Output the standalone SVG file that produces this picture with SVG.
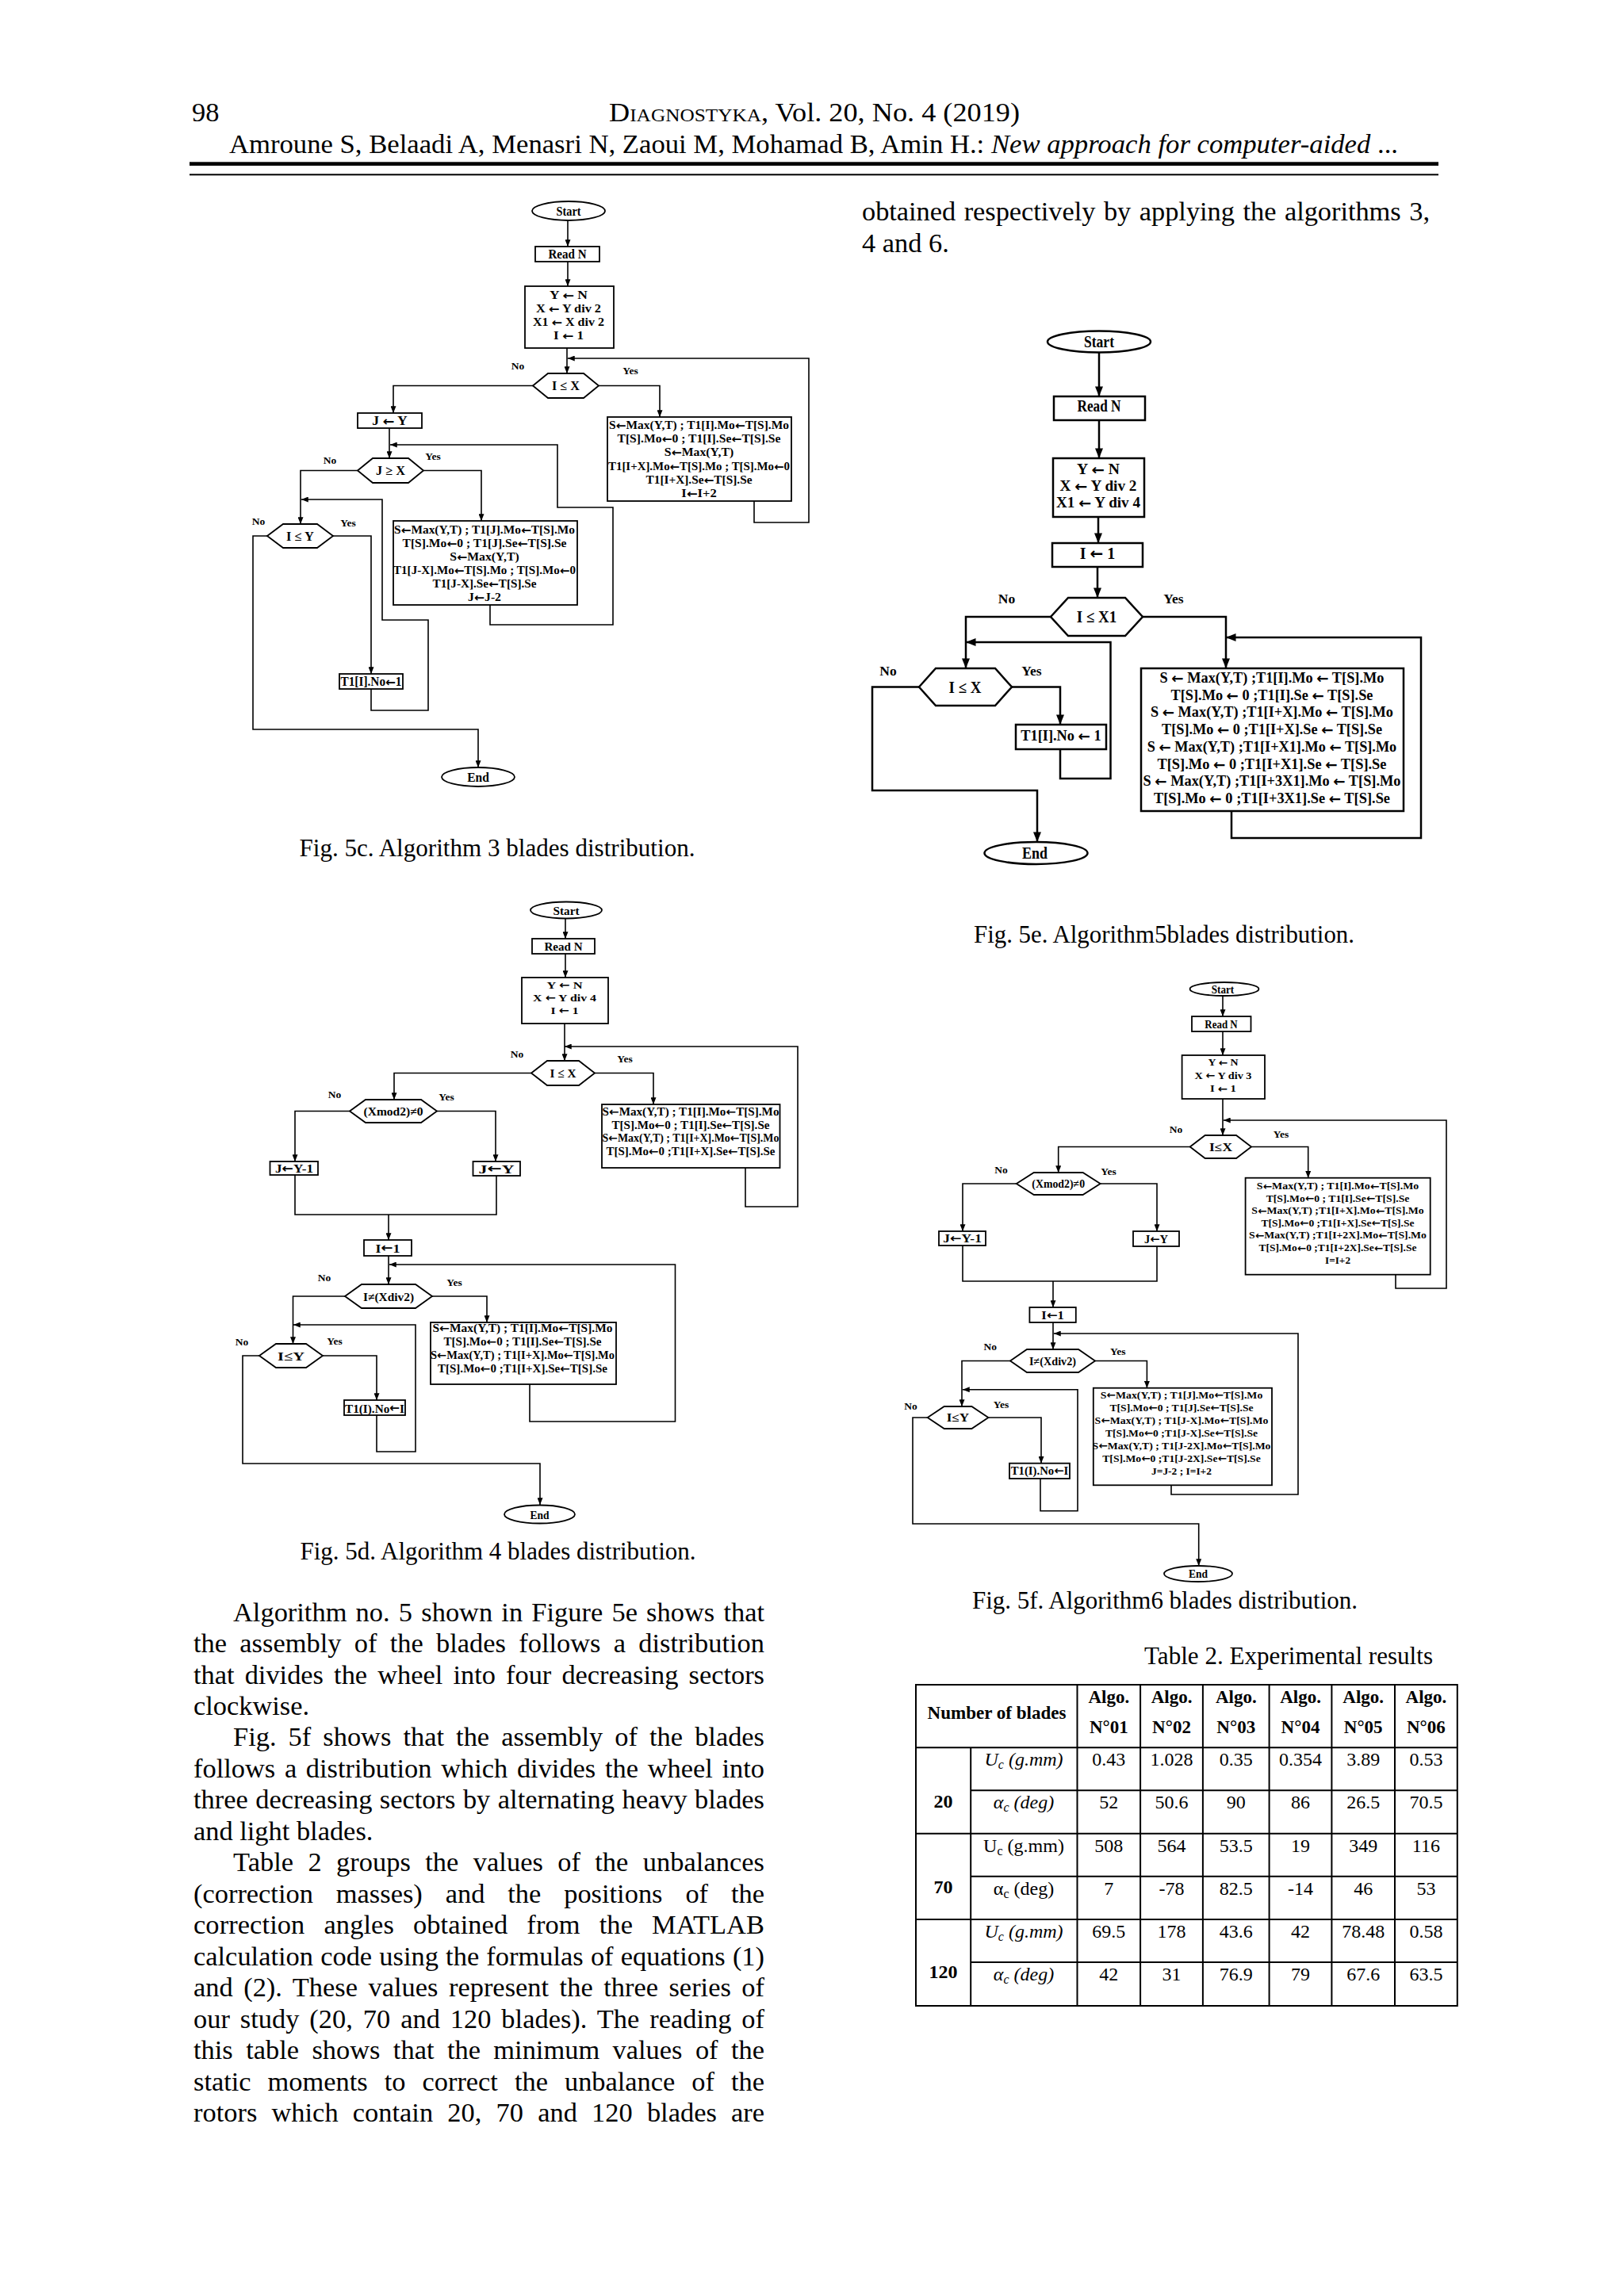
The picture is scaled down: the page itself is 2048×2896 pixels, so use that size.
<svg xmlns="http://www.w3.org/2000/svg" width="2048" height="2896" viewBox="0 0 2048 2896">
<defs>
<marker id="a" viewBox="0 0 10 8" refX="10" refY="4" markerWidth="9" markerHeight="7" orient="auto" markerUnits="userSpaceOnUse"><path d="M0,0L10,4L0,8z" fill="#000"/></marker>
<marker id="A" viewBox="0 0 10 8" refX="10" refY="4" markerWidth="13" markerHeight="10" orient="auto" markerUnits="userSpaceOnUse"><path d="M0,0L10,4L0,8z" fill="#000"/></marker>
</defs>
<style>
text{font-family:"Liberation Serif","Times New Roman","DejaVu Serif",serif;fill:#000}
.fc text{font-weight:bold;dominant-baseline:central;text-anchor:middle}
.f5c text{font-size:16px}
.f5d text{font-size:15.5px}
.f5f text{font-size:14.5px}
.f5e text{font-size:20px}
.f5c text.m{font-size:14.6px}
.f5d text.m{font-size:14.2px}
.f5d text.mi{font-size:13.3px}
.f5f text.m{font-size:13.3px}
.f5e text.m{font-size:18.1px}
.fc text.lb{font-size:13.5px}
.f5e text.lb{font-size:17.5px}
.ar{font-family:"DejaVu Sans",sans-serif}
.n{fill:#fff;stroke:#000;stroke-width:1.8}
.f5e .n{stroke-width:2.5}
.cn path{fill:none;stroke:#000;stroke-width:1.6}
.f5e .cn path{stroke-width:2.5}
.body{font-size:34.4px}
.cap{font-size:31px;text-anchor:middle}
.tb text{font-size:24px;text-anchor:middle}
.tb .h{font-weight:bold;font-size:23px}
.tl{stroke:#000;stroke-width:2;fill:none}
</style>
<rect x="0" y="0" width="2048" height="2896" fill="#fff"/>

<g id="header">
<text x="242" y="153" font-size="34.4">98</text>
<text x="1027" y="153" font-size="34.4" text-anchor="middle" textLength="518" lengthAdjust="spacingAndGlyphs"><tspan style="font-variant:small-caps">Diagnostyka</tspan>, Vol. 20, No. 4 (2019)</text>
<text x="289" y="193" font-size="34.4" textLength="1474" lengthAdjust="spacingAndGlyphs">Amroune S, Belaadi A, Menasri N, Zaoui M, Mohamad B, Amin H.: <tspan font-style="italic">New approach for computer-aided</tspan> ...</text>
<rect x="239" y="204.3" width="1575" height="4.7" fill="#000"/>
<rect x="239" y="219.3" width="1575" height="2" fill="#000"/>
</g>

<g id="body-left" class="body">
<text x="294" y="2044.6" word-spacing="2.6" textLength="670" lengthAdjust="spacing">Algorithm no. 5 shown in Figure 5e shows that</text>
<text x="244" y="2084.1" word-spacing="7.7" textLength="720" lengthAdjust="spacing">the assembly of the blades follows a distribution</text>
<text x="244" y="2123.5" word-spacing="4.5" textLength="720" lengthAdjust="spacing">that divides the wheel into four decreasing sectors</text>
<text x="244" y="2163">clockwise.</text>
<text x="294" y="2202.4" word-spacing="6.5" textLength="670" lengthAdjust="spacing">Fig. 5f shows that the assembly of the blades</text>
<text x="244" y="2241.9" word-spacing="3.1" textLength="720" lengthAdjust="spacing">follows a distribution which divides the wheel into</text>
<text x="244" y="2281.4" word-spacing="0.9" textLength="720" lengthAdjust="spacing">three decreasing sectors by alternating heavy blades</text>
<text x="244" y="2320.8">and light blades.</text>
<text x="294" y="2360.3" word-spacing="9.6" textLength="670" lengthAdjust="spacing">Table 2 groups the values of the unbalances</text>
<text x="244" y="2399.7" word-spacing="20.3" textLength="720" lengthAdjust="spacing">(correction masses) and the positions of the</text>
<text x="244" y="2439.2" word-spacing="15.4" textLength="720" lengthAdjust="spacing">correction angles obtained from the MATLAB</text>
<text x="244" y="2478.7" word-spacing="0.6" textLength="720" lengthAdjust="spacing">calculation code using the formulas of equations (1)</text>
<text x="244" y="2518.1" word-spacing="4.9" textLength="720" lengthAdjust="spacing">and (2). These values represent the three series of</text>
<text x="244" y="2557.6" word-spacing="4.3" textLength="720" lengthAdjust="spacing">our study (20, 70 and 120 blades). The reading of</text>
<text x="244" y="2597" word-spacing="7.8" textLength="720" lengthAdjust="spacing">this table shows that the minimum values of the</text>
<text x="244" y="2636.5" word-spacing="12.4" textLength="720" lengthAdjust="spacing">static moments to correct the unbalance of the</text>
<text x="244" y="2676" word-spacing="9.6" textLength="720" lengthAdjust="spacing">rotors which contain 20, 70 and 120 blades are</text>
</g>
<g id="body-right" class="body">
<text x="1087" y="278" word-spacing="2" textLength="716" lengthAdjust="spacing">obtained respectively by applying the algorithms 3,</text>
<text x="1087" y="317.5">4 and 6.</text>
</g>

<g id="captions" class="cap">
<text x="627" y="1080" textLength="499" lengthAdjust="spacingAndGlyphs">Fig. 5c. Algorithm 3 blades distribution.</text>
<text x="628" y="1967" textLength="499" lengthAdjust="spacingAndGlyphs">Fig. 5d. Algorithm 4 blades distribution.</text>
<text x="1468" y="1189" textLength="480" lengthAdjust="spacingAndGlyphs">Fig. 5e. Algorithm5blades distribution.</text>
<text x="1469" y="2029" textLength="486" lengthAdjust="spacingAndGlyphs">Fig. 5f. Algorithm6 blades distribution.</text>
<text x="1625" y="2099" textLength="364" lengthAdjust="spacingAndGlyphs">Table 2. Experimental results</text>
</g>

<!-- ================= Fig 5c ================= -->
<g id="fig5c" class="fc f5c">
<g class="cn" id="c5c-connectors">
<path d="M716,278V311" marker-end="url(#a)"/>
<path d="M716,330V361" marker-end="url(#a)"/>
<path d="M715,439V471" marker-end="url(#a)"/>
<path d="M951,632V659H1020V452H716" marker-end="url(#a)"/>
<path d="M672,486.5H496V521" marker-end="url(#a)"/>
<path d="M755,486.5H832V526" marker-end="url(#a)"/>
<path d="M491,540V578" marker-end="url(#a)"/>
<path d="M618,763V788H773V640H703V561H492" marker-end="url(#a)"/>
<path d="M451,593.5H379V661" marker-end="url(#a)"/>
<path d="M534,593.5H607V657" marker-end="url(#a)"/>
<path d="M468,869V896H540V782H482V630H380" marker-end="url(#a)"/>
<path d="M337,676H319V920H603V968" marker-end="url(#a)"/>
<path d="M420,676H468V850" marker-end="url(#a)"/>
</g>
<g id="c5c-start"><ellipse class="n" cx="717" cy="266" rx="46" ry="12"/><text x="717" y="266" textLength="31" lengthAdjust="spacingAndGlyphs">Start</text></g>
<g id="c5c-read"><rect class="n" x="675" y="311" width="81" height="19"/><text x="715.5" y="320.5" textLength="48" lengthAdjust="spacingAndGlyphs">Read N</text></g>
<g id="c5c-init"><rect class="n" x="662" y="361" width="112" height="78"/>
<text class="m" x="717" y="372" textLength="48" lengthAdjust="spacingAndGlyphs">Y <tspan class="ar">←</tspan> N</text>
<text class="m" x="717" y="389" textLength="82" lengthAdjust="spacingAndGlyphs">X <tspan class="ar">←</tspan> Y div 2</text>
<text class="m" x="717" y="406" textLength="90" lengthAdjust="spacingAndGlyphs">X1 <tspan class="ar">←</tspan> X div 2</text>
<text class="m" x="717" y="423" textLength="38" lengthAdjust="spacingAndGlyphs">I <tspan class="ar">←</tspan> 1</text></g>
<g id="c5c-d1"><polygon class="n" points="672,486.5 691,471 736,471 755,486.5 736,502 691,502"/><text x="713.5" y="486.5" textLength="35" lengthAdjust="spacingAndGlyphs">I ≤ X</text>
<text class="lb" x="653" y="461">No</text><text class="lb" x="795" y="467">Yes</text></g>
<g id="c5c-jy"><rect class="n" x="451" y="521" width="81" height="19"/><text x="491.5" y="530.5" textLength="44.5" lengthAdjust="spacingAndGlyphs">J <tspan class="ar">←</tspan> Y</text></g>
<g id="c5c-box1"><rect class="n" x="766" y="526" width="232" height="106"/>
<text class="m" x="881.5" y="536" textLength="227" lengthAdjust="spacingAndGlyphs">S<tspan class="ar">←</tspan>Max(Y,T) ; T1[I].Mo<tspan class="ar">←</tspan>T[S].Mo</text>
<text class="m" x="881.5" y="553.2" textLength="206" lengthAdjust="spacingAndGlyphs">T[S].Mo<tspan class="ar">←</tspan>0 ; T1[I].Se<tspan class="ar">←</tspan>T[S].Se</text>
<text class="m" x="881.5" y="570.4" textLength="87.5" lengthAdjust="spacingAndGlyphs">S<tspan class="ar">←</tspan>Max(Y,T)</text>
<text class="m" x="881.5" y="587.6" textLength="229" lengthAdjust="spacingAndGlyphs">T1[I+X].Mo<tspan class="ar">←</tspan>T[S].Mo ; T[S].Mo<tspan class="ar">←</tspan>0</text>
<text class="m" x="881.5" y="604.8" textLength="134" lengthAdjust="spacingAndGlyphs">T1[I+X].Se<tspan class="ar">←</tspan>T[S].Se</text>
<text class="m" x="881.5" y="622" textLength="44.5" lengthAdjust="spacingAndGlyphs">I<tspan class="ar">←</tspan>I+2</text></g>
<g id="c5c-d2"><polygon class="n" points="451,593.5 470,578 515,578 534,593.5 515,609 470,609"/><text x="492.5" y="593.5" textLength="37" lengthAdjust="spacingAndGlyphs">J ≥ X</text>
<text class="lb" x="416" y="580">No</text><text class="lb" x="546" y="575">Yes</text></g>
<g id="c5c-box2"><rect class="n" x="496" y="657" width="232" height="106"/>
<text class="m" x="611" y="668" textLength="228" lengthAdjust="spacingAndGlyphs">S<tspan class="ar">←</tspan>Max(Y,T) ; T1[J].Mo<tspan class="ar">←</tspan>T[S].Mo</text>
<text class="m" x="611" y="685" textLength="207" lengthAdjust="spacingAndGlyphs">T[S].Mo<tspan class="ar">←</tspan>0 ; T1[J].Se<tspan class="ar">←</tspan>T[S].Se</text>
<text class="m" x="611" y="702" textLength="87.5" lengthAdjust="spacingAndGlyphs">S<tspan class="ar">←</tspan>Max(Y,T)</text>
<text class="m" x="611" y="719" textLength="230" lengthAdjust="spacingAndGlyphs">T1[J-X].Mo<tspan class="ar">←</tspan>T[S].Mo ; T[S].Mo<tspan class="ar">←</tspan>0</text>
<text class="m" x="611" y="736" textLength="131" lengthAdjust="spacingAndGlyphs">T1[J-X].Se<tspan class="ar">←</tspan>T[S].Se</text>
<text class="m" x="611" y="753" textLength="42" lengthAdjust="spacingAndGlyphs">J<tspan class="ar">←</tspan>J-2</text></g>
<g id="c5c-d3"><polygon class="n" points="337,676 357,661 400,661 420,676 400,691 357,691"/><text x="378.5" y="676" textLength="35" lengthAdjust="spacingAndGlyphs">I ≤ Y</text>
<text class="lb" x="326" y="657">No</text><text class="lb" x="439" y="659">Yes</text></g>
<g id="c5c-t1"><rect class="n" x="428" y="850" width="80" height="19"/><text x="468" y="859.5" textLength="77" lengthAdjust="spacingAndGlyphs">T1[I].No<tspan class="ar">←</tspan>1</text></g>
<g id="c5c-end"><ellipse class="n" cx="603" cy="980" rx="46" ry="12"/><text x="603" y="980" textLength="27.6" lengthAdjust="spacingAndGlyphs">End</text></g>
</g>

<!-- ================= Fig 5e ================= -->
<g id="fig5e" class="fc f5e">
<g class="cn" id="c5e-connectors">
<path d="M1386,445V500" marker-end="url(#A)"/>
<path d="M1386,530V578" marker-end="url(#A)"/>
<path d="M1385,652V685" marker-end="url(#A)"/>
<path d="M1384,715V754" marker-end="url(#A)"/>
<path d="M1325,778H1218V843" marker-end="url(#A)"/>
<path d="M1441,778H1546V843" marker-end="url(#A)"/>
<path d="M1553,1023V1057H1792V804H1546" marker-end="url(#A)"/>
<path d="M1159,866.5H1100V997H1308V1062" marker-end="url(#A)"/>
<path d="M1276,866.5H1337V914" marker-end="url(#A)"/>
<path d="M1337,945V982H1400.5V810H1218" marker-end="url(#A)"/>
</g>
<g id="c5e-start"><ellipse class="n" cx="1386" cy="431" rx="65" ry="13.5"/><text x="1386" y="431" textLength="38" lengthAdjust="spacingAndGlyphs">Start</text></g>
<g id="c5e-read"><rect class="n" x="1329" y="500" width="115" height="30"/><text x="1386" y="512" textLength="55" lengthAdjust="spacingAndGlyphs">Read N</text></g>
<g id="c5e-init"><rect class="n" x="1328" y="578" width="115" height="74"/>
<text class="m" x="1385" y="592" textLength="54" lengthAdjust="spacingAndGlyphs">Y <tspan class="ar">←</tspan> N</text>
<text class="m" x="1385" y="613" textLength="97" lengthAdjust="spacingAndGlyphs">X <tspan class="ar">←</tspan> Y div 2</text>
<text class="m" x="1385" y="634" textLength="106" lengthAdjust="spacingAndGlyphs">X1 <tspan class="ar">←</tspan> Y div 4</text></g>
<g id="c5e-i1"><rect class="n" x="1327" y="685" width="114" height="30"/><text x="1384" y="698" textLength="44.5" lengthAdjust="spacingAndGlyphs">I <tspan class="ar">←</tspan> 1</text></g>
<g id="c5e-d1"><polygon class="n" points="1325,778 1347,754 1419,754 1441,778 1419,802 1347,802"/><text x="1383" y="778" textLength="50.5" lengthAdjust="spacingAndGlyphs">I ≤ X1</text>
<text class="lb" x="1269.5" y="755">No</text><text class="lb" x="1480" y="755">Yes</text></g>
<g id="c5e-d2"><polygon class="n" points="1159,866.5 1180,843 1255,843 1276,866.5 1255,890 1180,890"/><text x="1217" y="866.5" textLength="41" lengthAdjust="spacingAndGlyphs">I ≤ X</text>
<text class="lb" x="1120" y="845.5">No</text><text class="lb" x="1301" y="845.5">Yes</text></g>
<g id="c5e-t1"><rect class="n" x="1281" y="914" width="114" height="31"/><text class="m" x="1338" y="928" textLength="101.5" lengthAdjust="spacingAndGlyphs">T1[I].No <tspan class="ar">←</tspan> 1</text></g>
<g id="c5e-box"><rect class="n" x="1439" y="843" width="331" height="180"/>
<text class="m" x="1604" y="855" textLength="283" lengthAdjust="spacingAndGlyphs">S <tspan class="ar">←</tspan> Max(Y,T) ;T1[I].Mo <tspan class="ar">←</tspan> T[S].Mo</text>
<text class="m" x="1604" y="876.7" textLength="255" lengthAdjust="spacingAndGlyphs">T[S].Mo <tspan class="ar">←</tspan> 0 ;T1[I].Se <tspan class="ar">←</tspan> T[S].Se</text>
<text class="m" x="1604" y="898.4" textLength="306" lengthAdjust="spacingAndGlyphs">S <tspan class="ar">←</tspan> Max(Y,T) ;T1[I+X].Mo <tspan class="ar">←</tspan> T[S].Mo</text>
<text class="m" x="1604" y="920.1" textLength="278" lengthAdjust="spacingAndGlyphs">T[S].Mo <tspan class="ar">←</tspan> 0 ;T1[I+X].Se <tspan class="ar">←</tspan> T[S].Se</text>
<text class="m" x="1604" y="941.8" textLength="314.5" lengthAdjust="spacingAndGlyphs">S <tspan class="ar">←</tspan> Max(Y,T) ;T1[I+X1].Mo <tspan class="ar">←</tspan> T[S].Mo</text>
<text class="m" x="1604" y="963.5" textLength="289" lengthAdjust="spacingAndGlyphs">T[S].Mo <tspan class="ar">←</tspan> 0 ;T1[I+X1].Se <tspan class="ar">←</tspan> T[S].Se</text>
<text class="m" x="1604" y="985.2" textLength="325" lengthAdjust="spacingAndGlyphs">S <tspan class="ar">←</tspan> Max(Y,T) ;T1[I+3X1].Mo <tspan class="ar">←</tspan> T[S].Mo</text>
<text class="m" x="1604" y="1006.9" textLength="298" lengthAdjust="spacingAndGlyphs">T[S].Mo <tspan class="ar">←</tspan> 0 ;T1[I+3X1].Se <tspan class="ar">←</tspan> T[S].Se</text></g>
<g id="c5e-end"><ellipse class="n" cx="1306.5" cy="1076" rx="65" ry="14"/><text x="1305" y="1076" textLength="32" lengthAdjust="spacingAndGlyphs">End</text></g>
</g>

<!-- ================= Fig 5d ================= -->
<g id="fig5d" class="fc f5d">
<g class="cn" id="c5d-connectors">
<path d="M713,1159V1184" marker-end="url(#a)"/>
<path d="M713,1203V1233" marker-end="url(#a)"/>
<path d="M712,1291V1338" marker-end="url(#a)"/>
<path d="M940,1473V1522H1006V1320H712" marker-end="url(#a)"/>
<path d="M670,1353.5H497V1387" marker-end="url(#a)"/>
<path d="M750,1353.5H824V1393" marker-end="url(#a)"/>
<path d="M441,1401.5H372V1465" marker-end="url(#a)"/>
<path d="M551,1401.5H625V1465" marker-end="url(#a)"/>
<path d="M372,1482V1532H626V1483"/>
<path d="M490,1532V1564" marker-end="url(#a)"/>
<path d="M490,1584V1620" marker-end="url(#a)"/>
<path d="M668,1746V1793H851.5V1595H491" marker-end="url(#a)"/>
<path d="M435,1635H369.5V1695" marker-end="url(#a)"/>
<path d="M545,1635H614V1668" marker-end="url(#a)"/>
<path d="M475,1785V1831H524V1671H370" marker-end="url(#a)"/>
<path d="M327,1710H306V1846H681V1898" marker-end="url(#a)"/>
<path d="M407,1710H475V1766" marker-end="url(#a)"/>
</g>
<g id="c5d-start"><ellipse class="n" cx="714" cy="1148" rx="45" ry="10.5"/><text x="714" y="1148" textLength="33" lengthAdjust="spacingAndGlyphs">Start</text></g>
<g id="c5d-read"><rect class="n" x="671" y="1184" width="79" height="19"/><text x="710.5" y="1193.5" textLength="48" lengthAdjust="spacingAndGlyphs">Read N</text></g>
<g id="c5d-init"><rect class="n" x="658" y="1233" width="109" height="58"/>
<text class="mi" x="712" y="1242" textLength="45" lengthAdjust="spacingAndGlyphs">Y <tspan class="ar">←</tspan> N</text>
<text class="mi" x="712" y="1258" textLength="80" lengthAdjust="spacingAndGlyphs">X <tspan class="ar">←</tspan> Y div 4</text>
<text class="mi" x="712" y="1274" textLength="35" lengthAdjust="spacingAndGlyphs">I <tspan class="ar">←</tspan> 1</text></g>
<g id="c5d-d1"><polygon class="n" points="670,1353.5 690,1338 730,1338 750,1353.5 730,1369 690,1369"/><text x="710" y="1353.5" textLength="33" lengthAdjust="spacingAndGlyphs">I ≤ X</text>
<text class="lb" x="652" y="1329">No</text><text class="lb" x="788" y="1335">Yes</text></g>
<g id="c5d-box1"><rect class="n" x="759" y="1393" width="224.5" height="80"/>
<text class="m" x="871" y="1402" textLength="223" lengthAdjust="spacingAndGlyphs">S<tspan class="ar">←</tspan>Max(Y,T) ; T1[I].Mo<tspan class="ar">←</tspan>T[S].Mo</text>
<text class="m" x="871" y="1418.7" textLength="199" lengthAdjust="spacingAndGlyphs">T[S].Mo<tspan class="ar">←</tspan>0 ; T1[I].Se<tspan class="ar">←</tspan>T[S].Se</text>
<text class="m" x="871" y="1435.4" textLength="223" lengthAdjust="spacingAndGlyphs">S<tspan class="ar">←</tspan>Max(Y,T) ; T1[I+X].Mo<tspan class="ar">←</tspan>T[S].Mo</text>
<text class="m" x="871" y="1452" textLength="213" lengthAdjust="spacingAndGlyphs">T[S].Mo<tspan class="ar">←</tspan>0 ;T1[I+X].Se<tspan class="ar">←</tspan>T[S].Se</text></g>
<g id="c5d-dmod"><polygon class="n" points="441,1401.5 461,1387 531,1387 551,1401.5 531,1416 461,1416"/><text x="496" y="1401.5" textLength="75" lengthAdjust="spacingAndGlyphs">(Xmod2)≠0</text>
<text class="lb" x="422" y="1380">No</text><text class="lb" x="563" y="1383">Yes</text></g>
<g id="c5d-jy1"><rect class="n" x="340.5" y="1465" width="60.5" height="17"/><text x="371" y="1473.5" textLength="48" lengthAdjust="spacingAndGlyphs">J<tspan class="ar">←</tspan>Y-1</text></g>
<g id="c5d-jy"><rect class="n" x="596.5" y="1465" width="59.5" height="18"/><text x="626" y="1474" textLength="45" lengthAdjust="spacingAndGlyphs">J<tspan class="ar">←</tspan>Y</text></g>
<g id="c5d-i1"><rect class="n" x="459" y="1564" width="60" height="20"/><text x="489" y="1574" textLength="31" lengthAdjust="spacingAndGlyphs">I<tspan class="ar">←</tspan>1</text></g>
<g id="c5d-dxdiv"><polygon class="n" points="435,1635 456,1620 524,1620 545,1635 524,1650 456,1650"/><text x="490" y="1635" textLength="64" lengthAdjust="spacingAndGlyphs">I≠(Xdiv2)</text>
<text class="lb" x="409" y="1611">No</text><text class="lb" x="573" y="1617">Yes</text></g>
<g id="c5d-box2"><rect class="n" x="543" y="1668" width="234" height="78"/>
<text class="m" x="659" y="1675" textLength="227" lengthAdjust="spacingAndGlyphs">S<tspan class="ar">←</tspan>Max(Y,T) ; T1[I].Mo<tspan class="ar">←</tspan>T[S].Mo</text>
<text class="m" x="659" y="1692" textLength="199" lengthAdjust="spacingAndGlyphs">T[S].Mo<tspan class="ar">←</tspan>0 ; T1[I].Se<tspan class="ar">←</tspan>T[S].Se</text>
<text class="m" x="659" y="1709" textLength="232" lengthAdjust="spacingAndGlyphs">S<tspan class="ar">←</tspan>Max(Y,T) ; T1[I+X].Mo<tspan class="ar">←</tspan>T[S].Mo</text>
<text class="m" x="659" y="1726" textLength="214" lengthAdjust="spacingAndGlyphs">T[S].Mo<tspan class="ar">←</tspan>0 ;T1[I+X].Se<tspan class="ar">←</tspan>T[S].Se</text></g>
<g id="c5d-d3"><polygon class="n" points="327,1710 348,1695 386,1695 407,1710 386,1725 348,1725"/><text x="367" y="1710" textLength="34" lengthAdjust="spacingAndGlyphs">I≤Y</text>
<text class="lb" x="305" y="1692">No</text><text class="lb" x="422" y="1691">Yes</text></g>
<g id="c5d-t1"><rect class="n" x="434" y="1766" width="77" height="19"/><text x="472.5" y="1776" textLength="75" lengthAdjust="spacingAndGlyphs">T1(I).No<tspan class="ar">←</tspan>I</text></g>
<g id="c5d-end"><ellipse class="n" cx="680.5" cy="1910" rx="44.5" ry="11.5"/><text x="680.5" y="1910" textLength="24" lengthAdjust="spacingAndGlyphs">End</text></g>
</g>

<!-- ================= Fig 5f ================= -->
<g id="fig5f" class="fc f5f">
<g class="cn" id="c5f-connectors">
<path d="M1542,1256V1282" marker-end="url(#a)"/>
<path d="M1542,1301V1331" marker-end="url(#a)"/>
<path d="M1542,1386V1432" marker-end="url(#a)"/>
<path d="M1760,1607.7V1625H1824V1413H1543" marker-end="url(#a)"/>
<path d="M1500.7,1446.5H1334.7V1479" marker-end="url(#a)"/>
<path d="M1578,1446.5H1649.7V1485.7" marker-end="url(#a)"/>
<path d="M1281.8,1493H1214V1553" marker-end="url(#a)"/>
<path d="M1387.6,1493H1459V1553" marker-end="url(#a)"/>
<path d="M1214,1571V1616H1459V1572"/>
<path d="M1328,1616V1649" marker-end="url(#a)"/>
<path d="M1328,1668V1702" marker-end="url(#a)"/>
<path d="M1477,1873.3V1885H1637V1682H1329" marker-end="url(#a)"/>
<path d="M1274,1716.5H1213V1774" marker-end="url(#a)"/>
<path d="M1381,1716.5H1446.4V1750.7" marker-end="url(#a)"/>
<path d="M1312,1865V1905.7H1359V1752.7H1214" marker-end="url(#a)"/>
<path d="M1169.7,1788H1151V1922H1511.7V1975" marker-end="url(#a)"/>
<path d="M1246.4,1788H1313V1845.7" marker-end="url(#a)"/>
</g>
<g id="c5f-start"><ellipse class="n" cx="1544" cy="1247.5" rx="43.5" ry="8.5"/><text x="1542" y="1248" textLength="28.5" lengthAdjust="spacingAndGlyphs">Start</text></g>
<g id="c5f-read"><rect class="n" x="1503" y="1282" width="74.5" height="19"/><text x="1540" y="1291.5" textLength="41.4" lengthAdjust="spacingAndGlyphs">Read N</text></g>
<g id="c5f-init"><rect class="n" x="1490.6" y="1331" width="104.4" height="55"/>
<text class="m" x="1542.5" y="1339.5" textLength="38" lengthAdjust="spacingAndGlyphs">Y <tspan class="ar">←</tspan> N</text>
<text class="m" x="1542.5" y="1356" textLength="72" lengthAdjust="spacingAndGlyphs">X <tspan class="ar">←</tspan> Y div 3</text>
<text class="m" x="1542.5" y="1372.5" textLength="33" lengthAdjust="spacingAndGlyphs">I <tspan class="ar">←</tspan> 1</text></g>
<g id="c5f-d1"><polygon class="n" points="1500.7,1446.5 1519.7,1432 1559,1432 1578,1446.5 1559,1461 1519.7,1461"/><text x="1539.5" y="1446.5" textLength="29" lengthAdjust="spacingAndGlyphs">I≤X</text>
<text class="lb" x="1483" y="1424">No</text><text class="lb" x="1615.6" y="1430.7">Yes</text></g>
<g id="c5f-box1"><rect class="n" x="1570.6" y="1485.7" width="233.1" height="122"/>
<text class="m" x="1687" y="1495.7" textLength="204.6" lengthAdjust="spacingAndGlyphs">S<tspan class="ar">←</tspan>Max(Y,T) ; T1[I].Mo<tspan class="ar">←</tspan>T[S].Mo</text>
<text class="m" x="1687" y="1511.3" textLength="180.7" lengthAdjust="spacingAndGlyphs">T[S].Mo<tspan class="ar">←</tspan>0 ; T1[I].Se<tspan class="ar">←</tspan>T[S].Se</text>
<text class="m" x="1687" y="1526.8" textLength="217.5" lengthAdjust="spacingAndGlyphs">S<tspan class="ar">←</tspan>Max(Y,T) ;T1[I+X].Mo<tspan class="ar">←</tspan>T[S].Mo</text>
<text class="m" x="1687" y="1542.4" textLength="193" lengthAdjust="spacingAndGlyphs">T[S].Mo<tspan class="ar">←</tspan>0 ;T1[I+X].Se<tspan class="ar">←</tspan>T[S].Se</text>
<text class="m" x="1687" y="1557.9" textLength="224" lengthAdjust="spacingAndGlyphs">S<tspan class="ar">←</tspan>Max(Y,T) ;T1[I+2X].Mo<tspan class="ar">←</tspan>T[S].Mo</text>
<text class="m" x="1687" y="1573.5" textLength="199" lengthAdjust="spacingAndGlyphs">T[S].Mo<tspan class="ar">←</tspan>0 ;T1[I+2X].Se<tspan class="ar">←</tspan>T[S].Se</text>
<text class="m" x="1687" y="1589" textLength="32" lengthAdjust="spacingAndGlyphs">I=I+2</text></g>
<g id="c5f-dmod"><polygon class="n" points="1281.8,1493 1303.8,1479 1365.6,1479 1387.6,1493 1365.6,1507 1303.8,1507"/><text x="1334.7" y="1493" textLength="66.7" lengthAdjust="spacingAndGlyphs">(Xmod2)≠0</text>
<text class="lb" x="1262.5" y="1475">No</text><text class="lb" x="1398" y="1477">Yes</text></g>
<g id="c5f-jy1"><rect class="n" x="1184" y="1553" width="59" height="18"/><text x="1213.5" y="1562" textLength="48.7" lengthAdjust="spacingAndGlyphs">J<tspan class="ar">←</tspan>Y-1</text></g>
<g id="c5f-jy"><rect class="n" x="1429" y="1553" width="58" height="19"/><text x="1458" y="1562.5" textLength="30" lengthAdjust="spacingAndGlyphs">J<tspan class="ar">←</tspan>Y</text></g>
<g id="c5f-i1"><rect class="n" x="1298.4" y="1649" width="58.4" height="19"/><text x="1327.6" y="1658.5" textLength="28.5" lengthAdjust="spacingAndGlyphs">I<tspan class="ar">←</tspan>1</text></g>
<g id="c5f-dxdiv"><polygon class="n" points="1274,1716.5 1295,1702 1360,1702 1381,1716.5 1360,1731 1295,1731"/><text x="1327.5" y="1716.5" textLength="59" lengthAdjust="spacingAndGlyphs">I≠(Xdiv2)</text>
<text class="lb" x="1248.7" y="1698">No</text><text class="lb" x="1409.7" y="1704">Yes</text></g>
<g id="c5f-box2"><rect class="n" x="1378.8" y="1750.7" width="225.2" height="122.6"/>
<text class="m" x="1490" y="1759" textLength="204.6" lengthAdjust="spacingAndGlyphs">S<tspan class="ar">←</tspan>Max(Y,T) ; T1[J].Mo<tspan class="ar">←</tspan>T[S].Mo</text>
<text class="m" x="1490" y="1775" textLength="181" lengthAdjust="spacingAndGlyphs">T[S].Mo<tspan class="ar">←</tspan>0 ; T1[J].Se<tspan class="ar">←</tspan>T[S].Se</text>
<text class="m" x="1490" y="1791" textLength="219" lengthAdjust="spacingAndGlyphs">S<tspan class="ar">←</tspan>Max(Y,T) ; T1[J-X].Mo<tspan class="ar">←</tspan>T[S].Mo</text>
<text class="m" x="1490" y="1807" textLength="192" lengthAdjust="spacingAndGlyphs">T[S].Mo<tspan class="ar">←</tspan>0 ;T1[J-X].Se<tspan class="ar">←</tspan>T[S].Se</text>
<text class="m" x="1490" y="1823" textLength="225" lengthAdjust="spacingAndGlyphs">S<tspan class="ar">←</tspan>Max(Y,T) ; T1[J-2X].Mo<tspan class="ar">←</tspan>T[S].Mo</text>
<text class="m" x="1490" y="1839" textLength="199.5" lengthAdjust="spacingAndGlyphs">T[S].Mo<tspan class="ar">←</tspan>0 ;T1[J-2X].Se<tspan class="ar">←</tspan>T[S].Se</text>
<text class="m" x="1490" y="1855" textLength="76" lengthAdjust="spacingAndGlyphs">J=J-2 ; I=I+2</text></g>
<g id="c5f-d3"><polygon class="n" points="1169.7,1788 1190.7,1774 1225.4,1774 1246.4,1788 1225.4,1802 1190.7,1802"/><text x="1208" y="1788" textLength="28.5" lengthAdjust="spacingAndGlyphs">I≤Y</text>
<text class="lb" x="1148.5" y="1773">No</text><text class="lb" x="1262.5" y="1771.7">Yes</text></g>
<g id="c5f-t1"><rect class="n" x="1273" y="1845.7" width="76" height="19.3"/><text x="1311" y="1855.3" textLength="72.6" lengthAdjust="spacingAndGlyphs">T1(I).No<tspan class="ar">←</tspan>I</text></g>
<g id="c5f-end"><ellipse class="n" cx="1511" cy="1985" rx="43" ry="10"/><text x="1511" y="1985" textLength="24" lengthAdjust="spacingAndGlyphs">End</text></g>
</g>

<!-- ================= Table 2 ================= -->
<g id="table2" class="tb">
<rect class="tl" x="1155" y="2125" width="682.8" height="405" stroke-width="2.5"/>
<path class="tl" d="M1224.2,2204.3V2530M1358.5,2125V2530M1438.1,2125V2530M1516.9,2125V2530M1600.6,2125V2530M1679.4,2125V2530M1759,2125V2530"/>
<path class="tl" d="M1155,2204.3H1837.8M1224.2,2258.3H1837.8M1155,2312.7H1837.8M1224.2,2366.7H1837.8M1155,2421H1837.8M1224.2,2475H1837.8"/>
<text class="h" x="1257" y="2168" textLength="175" lengthAdjust="spacingAndGlyphs">Number  of blades</text>
<text class="h" x="1398.3" y="2148">Algo.</text><text class="h" x="1398.3" y="2186">N°01</text>
<text class="h" x="1477.5" y="2148">Algo.</text><text class="h" x="1477.5" y="2186">N°02</text>
<text class="h" x="1558.75" y="2148">Algo.</text><text class="h" x="1558.75" y="2186">N°03</text>
<text class="h" x="1640" y="2148">Algo.</text><text class="h" x="1640" y="2186">N°04</text>
<text class="h" x="1719.2" y="2148">Algo.</text><text class="h" x="1719.2" y="2186">N°05</text>
<text class="h" x="1798.4" y="2148">Algo.</text><text class="h" x="1798.4" y="2186">N°06</text>
<text x="1189.6" y="2280" font-weight="bold">20</text>
<text x="1189.6" y="2388" font-weight="bold">70</text>
<text x="1189.6" y="2495" font-weight="bold">120</text>
<text x="1291" y="2227.3" font-style="italic">U<tspan font-size="16" dy="4">c</tspan><tspan dy="-4"> (g.mm)</tspan></text>
<text x="1291" y="2281.3" font-style="italic">α<tspan font-size="16" dy="4">c</tspan><tspan dy="-4"> (deg)</tspan></text>
<text x="1291" y="2335.7">U<tspan font-size="16" dy="4">c</tspan><tspan dy="-4"> (g.mm)</tspan></text>
<text x="1291" y="2389.7">α<tspan font-size="16" dy="4">c</tspan><tspan dy="-4"> (deg)</tspan></text>
<text x="1291" y="2444" font-style="italic">U<tspan font-size="16" dy="4">c</tspan><tspan dy="-4"> (g.mm)</tspan></text>
<text x="1291" y="2498" font-style="italic">α<tspan font-size="16" dy="4">c</tspan><tspan dy="-4"> (deg)</tspan></text>
<text x="1398.3" y="2227.3">0.43</text><text x="1477.5" y="2227.3">1.028</text><text x="1558.75" y="2227.3">0.35</text><text x="1640" y="2227.3">0.354</text><text x="1719.2" y="2227.3">3.89</text><text x="1798.4" y="2227.3">0.53</text>
<text x="1398.3" y="2281.3">52</text><text x="1477.5" y="2281.3">50.6</text><text x="1558.75" y="2281.3">90</text><text x="1640" y="2281.3">86</text><text x="1719.2" y="2281.3">26.5</text><text x="1798.4" y="2281.3">70.5</text>
<text x="1398.3" y="2335.7">508</text><text x="1477.5" y="2335.7">564</text><text x="1558.75" y="2335.7">53.5</text><text x="1640" y="2335.7">19</text><text x="1719.2" y="2335.7">349</text><text x="1798.4" y="2335.7">116</text>
<text x="1398.3" y="2389.7">7</text><text x="1477.5" y="2389.7">-78</text><text x="1558.75" y="2389.7">82.5</text><text x="1640" y="2389.7">-14</text><text x="1719.2" y="2389.7">46</text><text x="1798.4" y="2389.7">53</text>
<text x="1398.3" y="2444">69.5</text><text x="1477.5" y="2444">178</text><text x="1558.75" y="2444">43.6</text><text x="1640" y="2444">42</text><text x="1719.2" y="2444">78.48</text><text x="1798.4" y="2444">0.58</text>
<text x="1398.3" y="2498">42</text><text x="1477.5" y="2498">31</text><text x="1558.75" y="2498">76.9</text><text x="1640" y="2498">79</text><text x="1719.2" y="2498">67.6</text><text x="1798.4" y="2498">63.5</text>
</g>
</svg>
